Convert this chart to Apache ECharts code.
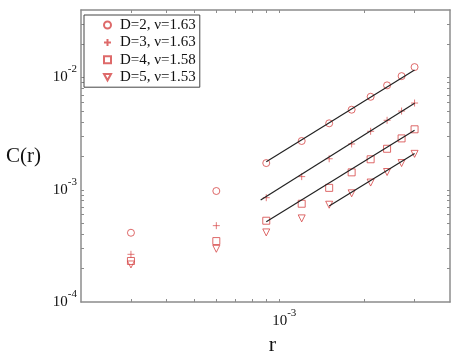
<!DOCTYPE html>
<html>
<head>
<meta charset="utf-8">
<script src="https://cdn.jsdelivr.net/npm/echarts@6/dist/echarts.min.js"></script>
<style>
html,body{margin:0;padding:0;background:#fff;}
#chart{width:474px;height:361px;}
</style>
</head>
<body>
<div id="chart"></div>
<script>
// ---- data ----
const seriesNames = ['D=2, ν=1.63', 'D=3, ν=1.63', 'D=4, ν=1.58', 'D=5, ν=1.53'];
const r = [0.0003, 0.0006, 0.0009, 0.0012, 0.0015, 0.0018, 0.0021, 0.0024, 0.0027, 0.0030];
const cD2 = [4.14e-4, 9.75e-4, 1.73e-3, 2.72e-3, 3.91e-3, 5.17e-3, 6.74e-3, 8.52e-3, 1.03e-2, 1.24e-2];
const cD3 = [2.66e-4, 4.79e-4, 8.5e-4, 1.31e-3, 1.89e-3, 2.56e-3, 3.32e-3, 4.16e-3, 5.03e-3, 5.93e-3];
const cD4 = [2.32e-4, 3.49e-4, 5.3e-4, 7.51e-4, 1.04e-3, 1.43e-3, 1.87e-3, 2.32e-3, 2.87e-3, 3.46e-3];
const cD5 = [2.16e-4, 2.98e-4, 4.17e-4, 5.56e-4, 7.36e-4, 9.3e-4, 1.16e-3, 1.44e-3, 1.73e-3, 2.09e-3];
// fitted power-law line end points
const fitR2 = [9e-4, 3e-3];   const fitC2 = [1.78e-3, 1.17e-2];
const fitR3 = [8.6e-4, 3e-3]; const fitC3 = [8.1e-4, 5.89e-3];
const fitR4 = [9e-4, 3e-3];   const fitC4 = [5.19e-4, 3.40e-3];
const fitR5 = [1.5e-3, 3e-3]; const fitC5 = [7.16e-4, 2.11e-3];
// axis ranges / ticks
const xMin = 2e-4, xMax = 4e-3;
const yMin = 1e-4, yMax = 4e-2;
const xTickMantissa = [3, 4, 5, 6, 7, 8, 9, 10, 20, 30];
const yTickMantissa = [2, 3, 4, 5, 6, 7, 8, 9, 10, 20, 30, 40, 50, 60, 70, 80, 90, 100, 200, 300];
const xTicks = xTickMantissa.map(m => m * 1e-4);
const yTicks = yTickMantissa.map(m => m * 1e-4);

const FONT = "'Liberation Serif','Times New Roman',serif";
const RED = '#d64545';
const AX = '#8c8c8c';

function zip(a, b) { return a.map((v, i) => [v, b[i]]); }
function isPow10(v) { const l = Math.log10(v); return Math.abs(l - Math.round(l)) < 1e-6; }
function powLabel(v) {
  if (!isPow10(v)) return '';
  return '{b|10}{s|' + Math.round(Math.log10(v)) + '}';
}
const rich = {
  b: { fontFamily: FONT, fontSize: 15, color: '#111' },
  s: { fontFamily: FONT, fontSize: 11, color: '#111', padding: [0, 0, 16, 0] }
};

function xAxisDef(pos, labels) {
  return {
    type: 'log', logBase: 10, min: xMin, max: xMax, position: pos,
    axisLine: { show: true, lineStyle: { color: AX, width: 1.5 } },
    axisTick: { show: true, inside: true, length: 3, customValues: xTicks, lineStyle: { color: AX } },
    minorTick: { show: false },
    splitLine: { show: false },
    axisLabel: labels ? { show: true, formatter: powLabel, rich: rich, margin: 6, padding: [0, 0, 0, 10] } : { show: false },
    name: labels ? 'r' : '',
    nameLocation: 'middle', nameGap: 32,
    nameTextStyle: { fontFamily: FONT, fontSize: 22, color: '#111', padding: [0, 0, 0, 14] }
  };
}
function yAxisDef(pos, labels) {
  return {
    type: 'log', logBase: 10, min: yMin, max: yMax, position: pos,
    axisLine: { show: true, lineStyle: { color: AX, width: 1.5 } },
    axisTick: { show: true, inside: true, length: 3, customValues: yTicks, lineStyle: { color: AX } },
    minorTick: { show: false },
    splitLine: { show: false },
    axisLabel: labels ? { show: true, formatter: powLabel, rich: rich, margin: 4 } : { show: false },
    name: labels ? 'C(r)' : '',
    nameLocation: 'middle', nameGap: 40, nameRotate: 0,
    nameTextStyle: { fontFamily: FONT, fontSize: 21, color: '#111' }
  };
}

const symbols = ['circle', 'path://M5,0 L5,10 M0,5 L10,5', 'rect', 'path://M0,0 L10,0 L5,9 Z'];
const values = [cD2, cD3, cD4, cD5];
const fits = [[fitR2, fitC2], [fitR3, fitC3], [fitR4, fitC4], [fitR5, fitC5]];

const series = [];
values.forEach((vals, i) => {
  series.push({
    name: seriesNames[i], type: 'scatter',
    symbol: symbols[i], symbolSize: 7,
    itemStyle: { color: 'rgba(0,0,0,0)', borderColor: RED, borderWidth: i === 1 ? 0.9 : 1 },
    data: zip(r, vals), z: 3
  });
});
fits.forEach((f, i) => {
  series.push({
    name: 'fit' + i, type: 'line', symbol: 'none', silent: true,
    lineStyle: { color: '#222', width: 1.2 },
    data: zip(f[0], f[1]), z: 4
  });
});

const chart = echarts.init(document.getElementById('chart'), null, { renderer: 'canvas' });
chart.setOption({
  animation: false,
  backgroundColor: '#fff',
  grid: { left: 81, right: 24, top: 10, bottom: 59 },
  xAxis: [xAxisDef('bottom', true), xAxisDef('top', false)],
  yAxis: [yAxisDef('left', true), yAxisDef('right', false)],
  legend: {
    data: seriesNames,
    orient: 'vertical', left: 84, top: 15,
    itemWidth: 7, itemHeight: 7, itemGap: 2.4,
    padding: [2.5, 4, 2.5, 19],
    backgroundColor: '#fff', borderColor: '#444', borderWidth: 1,
    selectedMode: false,
    textStyle: { fontFamily: FONT, fontSize: 15, color: '#111', lineHeight: 15, padding: [0, 0, 0, 4] }
  },
  series: series
});
</script>
</body>
</html>
